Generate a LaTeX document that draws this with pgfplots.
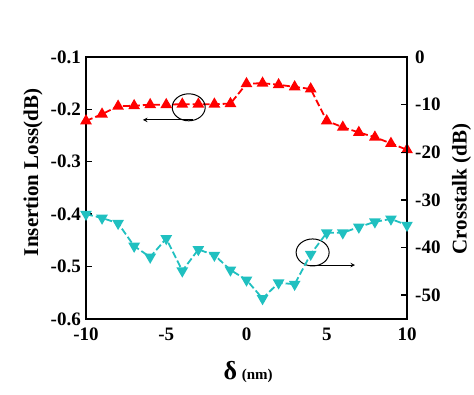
\documentclass[border=0pt]{standalone}
\usepackage{pgfplots}
\pgfplotsset{compat=1.18}
\usepackage{fontspec}
\setmainfont{Liberation Serif}
\definecolor{cyanline}{RGB}{32,192,192}
\begin{document}
\begin{tikzpicture}[font=\fontsize{19}{21}\selectfont\bfseries]
\useasboundingbox (-86pt,-76pt) rectangle (388pt,319pt);
\pgfplotsset{every axis/.append style={
  scale only axis, width=321pt, height=262pt, at={(0,0)}, anchor=south west,
  /pgf/number format/assume math mode=true,
  tick label style={font=\fontsize{19}{21}\selectfont\bfseries, inner sep=1pt},
  axis line style={line width=1.6pt}, tick style={line width=1.4pt, black},
  major tick length=6pt, tick align=inside,
  xmin=-10, xmax=10}}
\begin{axis}[
  ymin=-0.6, ymax=-0.1,
  ytick={-0.6,-0.5,-0.4,-0.3,-0.2,-0.1},
  yticklabel style={/pgf/number format/fixed,/pgf/number format/fixed zerofill,/pgf/number format/precision=1, xshift=-4pt},
  ytick pos=left,
  xtick={-10,-5,0,5,10}, xtick pos=bottom, xtick style={draw=none},
  xticklabel style={yshift=-8pt},
  ylabel={Insertion Loss(dB)},
  ylabel style={font=\fontsize{21}{23}\selectfont\bfseries, at={(rel axis cs:-0.165,0.56)}, anchor=center},
  xlabel={{\fontsize{26}{28}\selectfont δ} {\fontsize{15}{17}\selectfont (nm)}},
  xlabel style={at={(rel axis cs:0.505,-0.202)}, anchor=center},
]
\addplot[red, line width=1.8pt, dash pattern=on 7pt off 3pt, mark=triangle*, mark size=5pt, mark options={solid}]
coordinates {
(-10,-0.222) (-9,-0.209) (-8,-0.194) (-7,-0.193) (-6,-0.191) (-5,-0.191)
(-4,-0.190) (-3,-0.190) (-2,-0.190) (-1,-0.189) (0,-0.151) (1,-0.150)
(2,-0.153) (3,-0.157) (4,-0.161) (5,-0.222) (6,-0.234) (7,-0.244)
(8,-0.253) (9,-0.265) (10,-0.277)};
\draw[line width=1pt] (axis cs:-3.6,-0.196) ellipse [x radius=16.5pt, y radius=13.5pt];
\draw[line width=1pt, -stealth] (axis cs:-3.33,-0.220) -- (axis cs:-6.45,-0.220);
\draw[line width=1pt] (axis cs:4.12,-0.473) ellipse [x radius=16.5pt, y radius=13.5pt];
\draw[line width=1pt, -stealth] (axis cs:3.96,-0.497) -- (axis cs:6.76,-0.497);
\end{axis}
\begin{axis}[
  ymin=-55, ymax=0,
  ytick={-50,-40,-30,-20,-10,0},
  axis x line=none, axis y line*=right,
  ytick pos=right,
  yticklabel style={xshift=7pt},
  ylabel={Crosstalk (dB)},
  ylabel style={font=\fontsize{21}{23}\selectfont\bfseries, at={(rel axis cs:1.170,0.496)}, anchor=center},
]
\addplot[cyanline, line width=1.8pt, dash pattern=on 7pt off 3pt, mark=triangle*, mark size=5pt, mark options={solid, rotate=180}]
coordinates {
(-10,-33.0) (-9,-33.8) (-8,-34.9) (-7,-39.7) (-6,-42.0) (-5,-38.1)
(-4,-44.9) (-3,-40.4) (-2,-41.6) (-1,-44.7) (0,-46.8) (1,-50.7)
(2,-47.4) (3,-47.7) (4,-41.4) (5,-36.9) (6,-36.9) (7,-35.7)
(8,-34.6) (9,-34.0) (10,-35.3)};
\end{axis}
\end{tikzpicture}
\end{document}
